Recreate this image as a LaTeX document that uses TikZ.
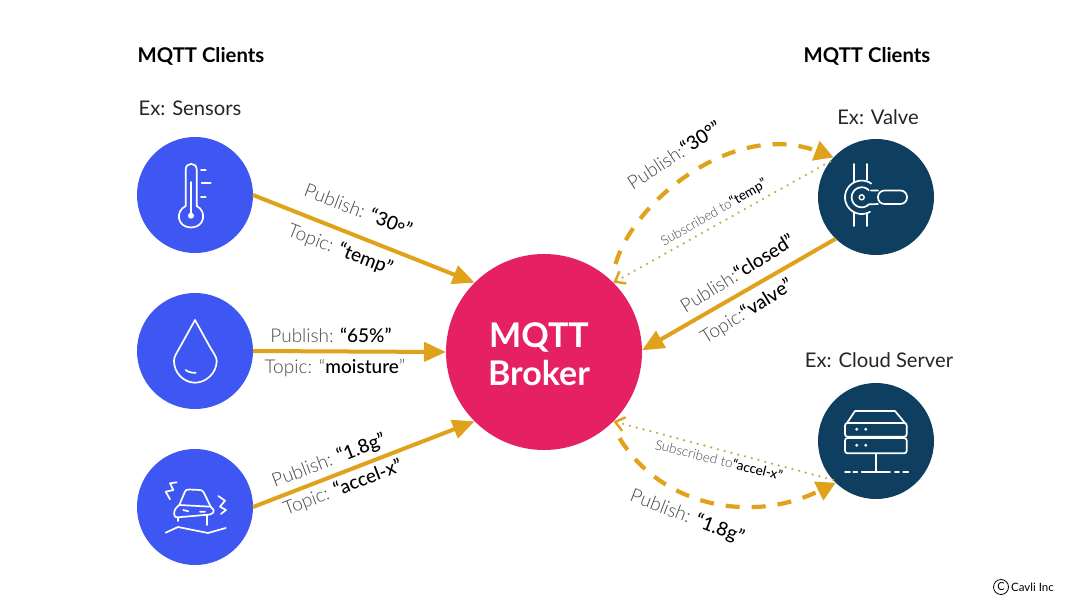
\documentclass[tikz,border=0pt]{standalone}
\usepackage{fontspec}
\setmainfont{Lato}
\newfontfamily\lightf{Lato Light}
\newfontfamily\medf{Lato Medium}
\usetikzlibrary{arrows.meta}
\definecolor{gold}{HTML}{E0A11B}
\definecolor{olivedot}{HTML}{BDB04A}
\definecolor{sensorblue}{HTML}{3E57F2}
\definecolor{navy}{HTML}{0F3F60}
\definecolor{pinkb}{HTML}{E62163}
\definecolor{softgray}{HTML}{4A4A4A}
\newcommand{\lt}[1]{{\lightf\color{softgray}#1}}
\newcommand{\fs}[1]{\fontsize{#1}{#1}\selectfont}
\tikzset{
  sensor/.style={circle,fill=sensorblue,minimum size=116pt,inner sep=0,outer sep=0},
  actor/.style={circle,fill=navy,minimum size=116pt,inner sep=0,outer sep=0},
  brokernode/.style={circle,fill=pinkb,minimum size=196pt,inner sep=0,outer sep=0},
  solidarrow/.style={draw=gold,line width=4pt,-{Triangle[length=22pt,width=19pt,fill=gold]}},
  dasharrow/.style={draw=gold,line width=4.2pt,dash pattern=on 14pt off 12pt,shorten <=17pt,-{Triangle[length=19pt,width=20pt,fill=gold]}},
  dotarrow/.style={draw=olivedot,line width=2.5pt,line cap=round,dash pattern=on 0pt off 7pt,-{Straight Barb[length=9pt,width=14pt,line width=2.4pt,color=gold]}},
  head/.style={font=\fs{20.3}\bfseries,text=black,inner sep=0},
  sub/.style={font=\fs{20.2},text=black!85,inner sep=0},
  msg/.style={font=\fs{19}\medf,text=black,inner sep=0},
  small/.style={font=\fs{13.5}\medf,text=black,inner sep=0},
  icon/.style={draw=white,line width=1.7pt,line cap=round,line join=round},
  icondot/.style={fill=white,circle,inner sep=0,minimum size=3.2pt}
}
\begin{document}
\begin{tikzpicture}[x=1pt,y=-1pt]
\useasboundingbox (0,0) rectangle (1080,608);
\fill[white] (0,0) rectangle (1080,608);
% titles
\node[head] (t1) at (201,56) {MQTT Clients};
\node[head] (t2) at (867,56) {MQTT Clients};
\node[sub] (e1) at (190,108) {Ex: Sensors};
\node[sub] (e2) at (878,117) {Ex: Valve};
\node[sub] (e3) at (879,360) {Ex: Cloud Server};
% nodes
\node[sensor] (s1) at (195,195) {};
\node[sensor] (s2) at (195,351) {};
\node[sensor] (s3) at (195,507) {};
\node[actor] (v) at (876,197) {};
\node[actor] (c) at (876,441) {};
\node[brokernode] (b) at (544,352) {};
\node[align=center,text=white,font=\fs{34}\bfseries,inner sep=0] (bl) at (539,354) {MQTT\\[3.5pt]Broker};
% connectors
\draw[solidarrow] (s1.east) -- (b.135);
\draw[solidarrow] (s2.east) -- (b.west);
\draw[solidarrow] (s3.east) -- (b.225);
\draw[solidarrow] (v.226) -- (b.1);
\draw[dasharrow] (b.47) .. controls (634,200) and (735,120) .. (v.137);
\draw[dasharrow] (b.-47) .. controls (660,505) and (750,525) .. (c.226);
\draw[dotarrow] (v.142) -- (b.45);
\draw[dotarrow] (c.222) -- (b.-45);
% left labels
\node[msg,rotate=-21] (l1) at (358,211) {\lt{Publish:} “30\raisebox{-.35ex}{°}”};
\node[msg,rotate=-21] (l2) at (340,250) {\lt{Topic:} “temp”};
\node[msg] (l3) at (331,335) {\lt{Publish:} “65\%”};
\node[msg] (l4) at (335,368) {\lt{Topic: “}moisture\lt{”}};
\node[msg,rotate=21] (l5) at (329,461) {\lt{Publish:} “1.8g”};
\node[msg,rotate=21] (l6) at (343,488) {\lt{Topic:} “accel-x”};
% right labels
\node[msg,rotate=33] (r1) at (674,155) {\lt{Publish:}“30°”};
\node[small,rotate=30] (r2) at (714,213) {\lt{Subscribed to}“temp”};
\node[msg,rotate=32] (r3) at (737,273) {\lt{Publish:}“closed”};
\node[msg,rotate=32] (r4) at (747,312) {\lt{Topic:}“valve”};
\node[small,rotate=-14] (r5) at (719,460) {\lt{Subscribed to}“accel-x”};
\node[msg,rotate=-21] (r6) at (687,517) {\lt{Publish:} “1.8g”};
% copyright
\node[draw=black,circle,line width=.8pt,minimum size=15pt,inner sep=0,font=\fs{11}] (cc) at (1001,587) {C};
\node[font=\fs{11.5},text=black,inner sep=0,anchor=west] (ct) at (1011,587) {Cavli Inc};
% thermometer
\draw[icon] (185.7,206) -- (185.7,169.5) .. controls (185.7,162) and (196.7,162) .. (196.7,169.5) -- (196.7,206) .. controls (207,211) and (205,227.5) .. (191,227.5) .. controls (177,227.5) and (175,211) .. (185.7,206);
\draw[icon] (191,182) -- (191,213);
\node[icondot,minimum size=6pt] at (191,215.7) {};
\draw[icon] (201,170) -- (205.7,170) (201.7,183.3) -- (210.7,183.3) (201,196.7) -- (205.7,196.7);
% drop
\draw[icon] (195,320) -- (180,347) .. controls (176,354) and (174,357) .. (174,361) .. controls (174,373) and (184,382.7) .. (195,382.7) .. controls (206,382.7) and (216.7,373) .. (216.7,361) .. controls (216.7,357) and (214,354) .. (210,347) -- cycle;
\draw[icon] (185.7,370) .. controls (188,372) and (192,373) .. (195.7,372.7);
% car
\draw[icon] (165.7,532.7) -- (178,527) -- (208,533) -- (225.7,528);
\draw[icon] (179.3,505) -- (185,491.5) .. controls (185.5,490) and (187,489.5) .. (189,489.5) -- (200,490) .. controls (202,490) and (203,491) .. (204,493) -- (210.7,506.7);
\draw[icon] (179.3,505) .. controls (175,508) and (173.5,512) .. (174.3,515) .. controls (174.5,517) and (176,517.5) .. (178,517.3) -- (210,514.5) .. controls (213,514) and (214,512) .. (213.7,510) .. controls (213,508) and (212,507.5) .. (210.7,506.7) -- cycle;
\draw[icon] (178.3,517.5) -- (178.3,521) (207.3,515) -- (207.3,525);
\draw[icon] (183.3,510) -- (188.3,511.3) (200,511.7) -- (205,511.7);
\draw[icon] (176.7,482.3) -- (170,483.3) -- (173.3,490) -- (165.7,491.7) -- (170,499.3);
\draw[icon] (218.3,496) -- (225,500.7) -- (220,506.7) -- (226,510) -- (221,514);
% valve
\draw[icon] (854.3,164) -- (854.3,182) (866.7,164) -- (866.7,180) (854.3,212) -- (854.3,226) (866.7,214) -- (866.7,226);
\draw[icon] plot[domain=55:300,samples=40] ({861.7+16.7*cos(\x)},{197.3-16.7*sin(\x)});
\draw[icon] (878,190.5) -- (871,190.5) plot[domain=45:315,samples=40] ({861.7+10*cos(\x)},{197.3-10*sin(\x)}) -- (878,204);
\draw[icon,rounded corners=6.5pt] (878,190.5) -- (907,190.5) -- (907,204) -- (878,204) -- cycle;
\node[draw=white,line width=1.4pt,circle,inner sep=0,minimum size=5pt] at (861.7,197.3) {};
% server
\draw[icon,rounded corners=2.5pt] (845,423) rectangle (906.7,436.7);
\draw[icon,rounded corners=2.5pt] (845,438) rectangle (906.7,453.3);
\draw[icon] (847,423) -- (855,411) -- (895,411) -- (905,423);
\foreach \p in {(856.7,429.3),(865.7,429.3),(856.7,445.3),(865.7,445.3)} \node[icondot] at \p {};
\draw[icon] (875.7,453.3) -- (875.7,471.7);
\draw[icon] (845,471.7) -- (850,471.7) (853.3,471.7) -- (857.3,471.7) (861.7,471.7) -- (890,471.7) (895,471.7) -- (899,471.7) (903.3,471.7) -- (908.3,471.7);
\end{tikzpicture}
\end{document}
